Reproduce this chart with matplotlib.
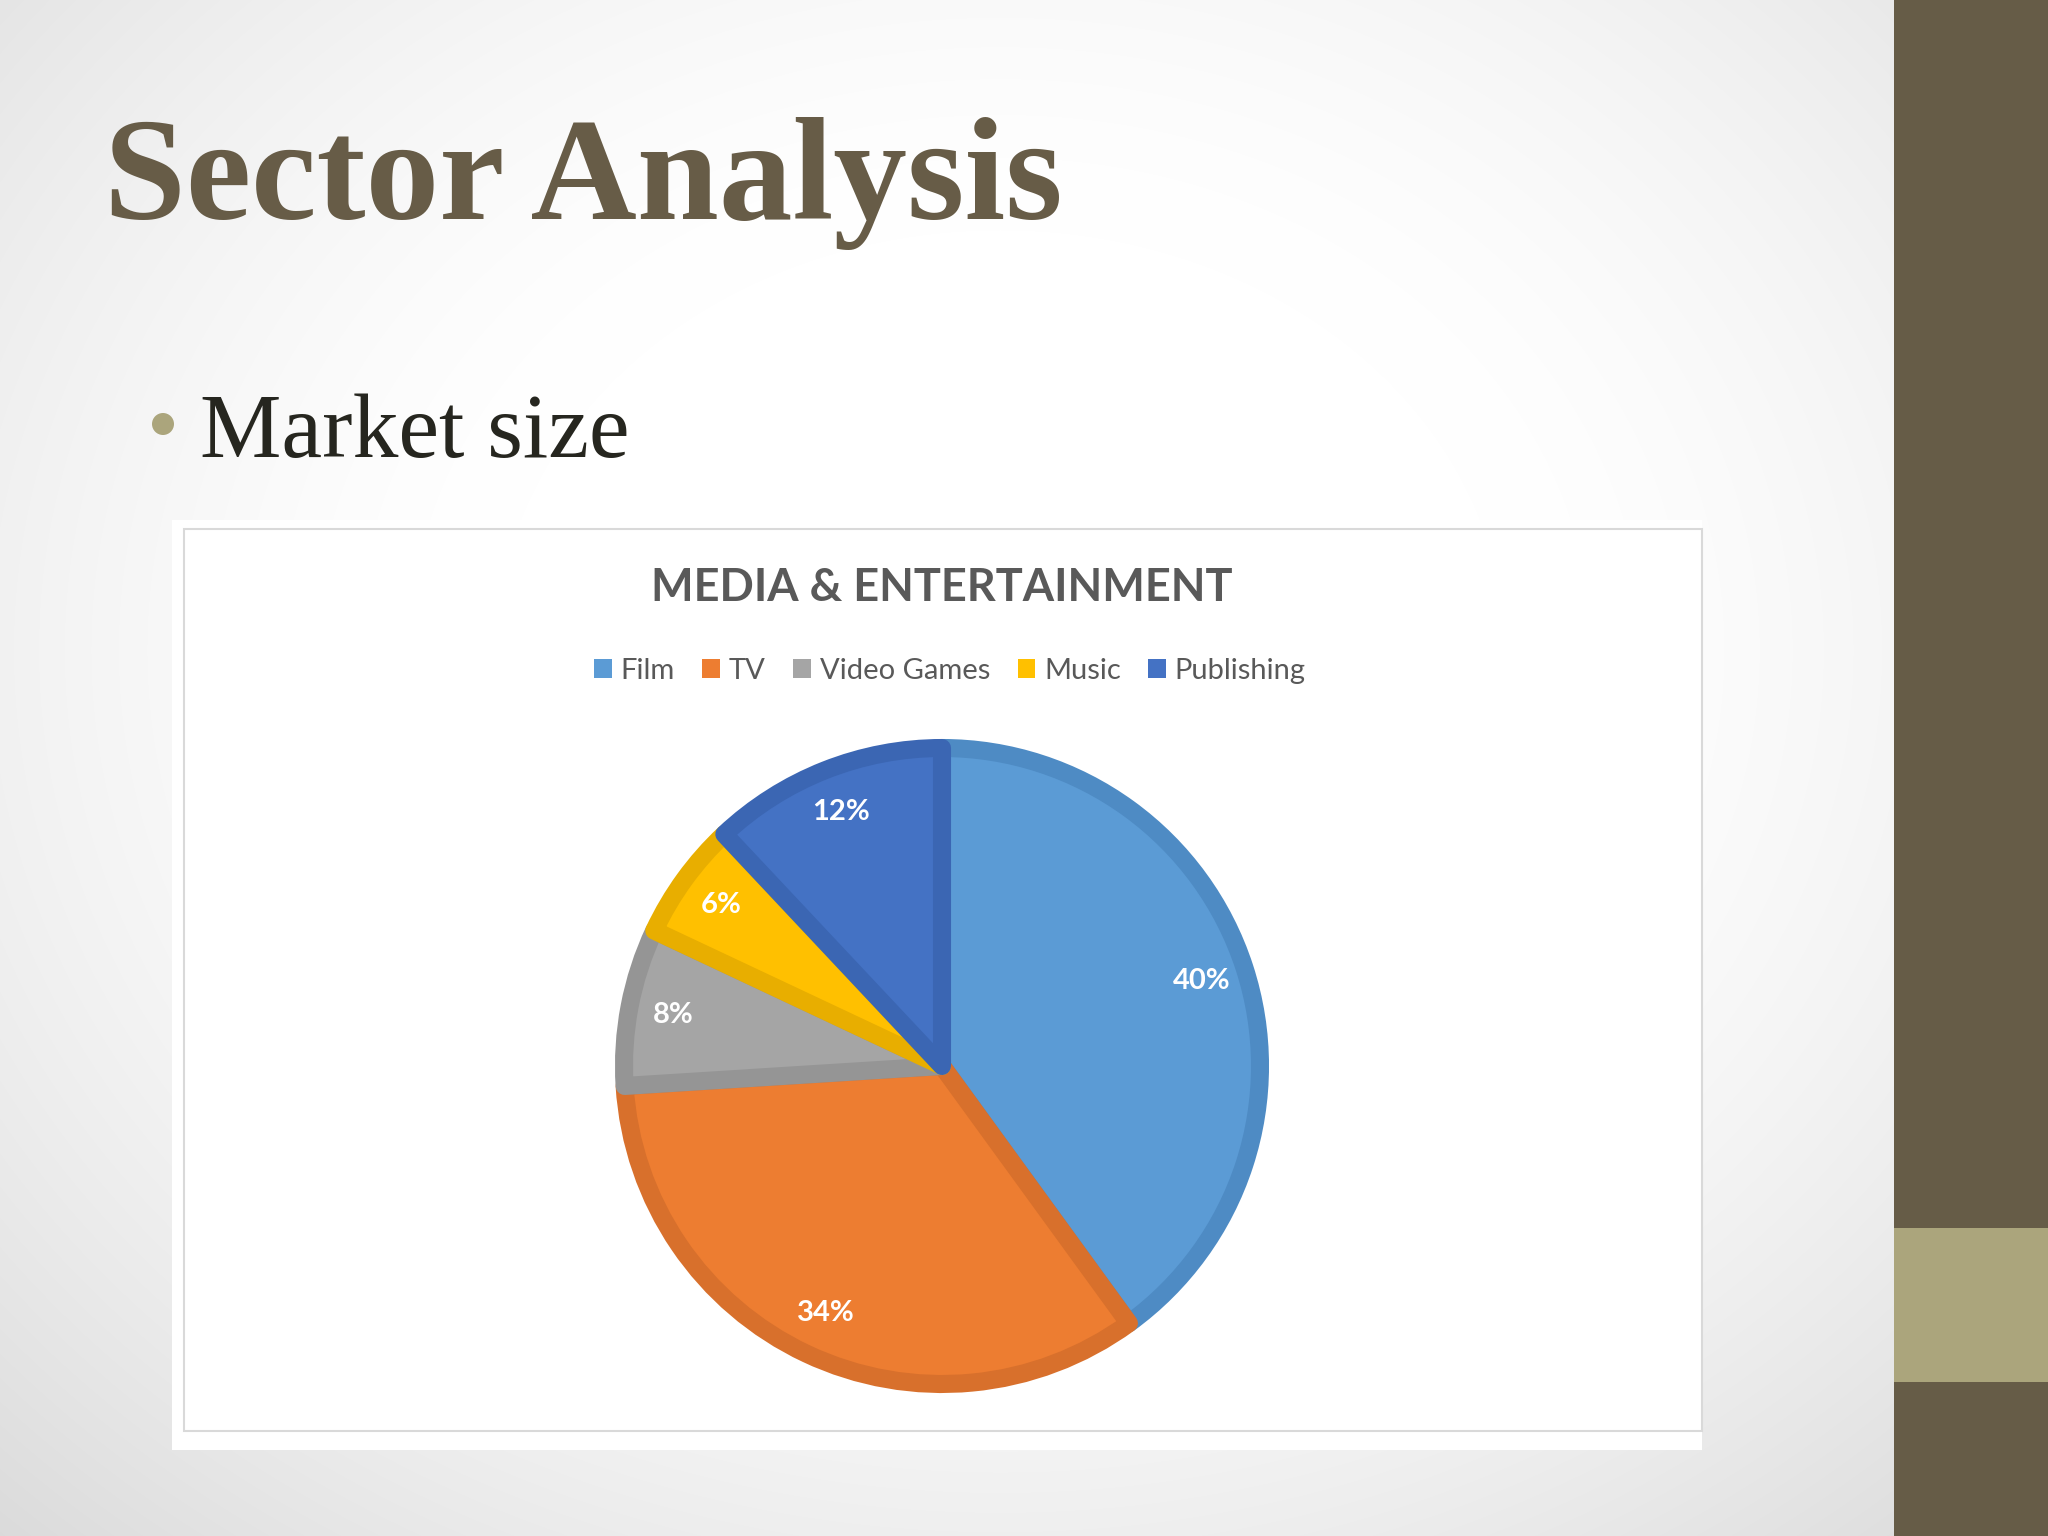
import numpy as np
import matplotlib
matplotlib.use("Agg")
import matplotlib.pyplot as plt
from matplotlib.patches import Rectangle, Ellipse, Patch

# DATA
categories = ["Film", "TV", "Video Games", "Music", "Publishing"]
shares = [40, 34, 8, 6, 12]
fills = ["#5B9BD5", "#ED7D31", "#A5A5A5", "#FFC000", "#4472C4"]
edges = ["#4E8BC4", "#D8702C", "#959595", "#E8AE00", "#3B66B3"]

W, H = 2048, 1536
fig = plt.figure(figsize=(W / 100, H / 100), dpi=100)


def fx(px):
    return px / W


def fy(py):
    return 1 - py / H


# slide background with soft grey vignette
bg = fig.add_axes([0, 0, 1, 1])
bg.set_zorder(-5)
yy, xx = np.mgrid[0:H, 0:W]
d = np.sqrt(((xx - 1000) / 1200.0) ** 2 + ((yy - 650) / 1000.0) ** 2)
shade = 1 - 0.2 * np.clip(d - 0.42, 0, None) ** 1.5
bg.imshow(np.dstack([shade, shade, shade]), extent=[0, W, H, 0], aspect="auto")
bg.set_xlim(0, W)
bg.set_ylim(H, 0)
bg.axis("off")

# right side bar
fig.add_artist(Rectangle((fx(1894), 0), 1 - fx(1894), 1, transform=fig.transFigure,
                         facecolor="#665C47", edgecolor="none"))
fig.add_artist(Rectangle((fx(1894), fy(1382)), 1 - fx(1894), (1382 - 1228) / H,
                         transform=fig.transFigure, facecolor="#ABA57C", edgecolor="none"))

# headings
fig.text(fx(104), fy(219), "Sector Analysis", family="Liberation Serif", weight="bold",
         fontsize=106, color="#675C47", va="baseline", ha="left")
fig.add_artist(Ellipse((fx(163), fy(424)), 22 / W, 22 / H, transform=fig.transFigure,
                       facecolor="#ABA57C", edgecolor="none"))
fig.text(fx(200), fy(457), "Market size", family="Liberation Serif", fontsize=66,
         color="#26261F", va="baseline", ha="left")

# chart area
fig.add_artist(Rectangle((fx(172), fy(1450)), (1702 - 172) / W, (1450 - 520) / H,
                         transform=fig.transFigure, facecolor="white", edgecolor="none"))
fig.add_artist(Rectangle((fx(184), fy(1431)), (1702 - 184) / W, (1431 - 529) / H,
                         transform=fig.transFigure, facecolor="white",
                         edgecolor="#D9D9D9", linewidth=1.5))

fig.text(fx(942), fy(588), "MEDIA & ENTERTAINMENT", family="Lato", weight="bold",
         fontsize=32.5, color="#595959", ha="center", va="center")

# pie
cx, cy, r = 942, 1066, 318
ax = fig.add_axes([fx(cx - r), fy(cy + r), 2 * r / W, 2 * r / H])
ax.set_zorder(5)
wedges, texts, autotexts = ax.pie(
    shares,
    colors=fills,
    startangle=90,
    counterclock=False,
    autopct="%d%%",
    pctdistance=0.86,
    wedgeprops={"linewidth": 13},
    textprops={"family": "Lato", "weight": "bold", "fontsize": 21, "color": "white"},
)
for w, ec in zip(wedges, edges):
    w.set_edgecolor(ec)
    w.set_joinstyle("round")
    w.set_clip_path(w)  # keep the border inside each slice
ax.set_xlim(-1, 1)
ax.set_ylim(-1, 1)
ax.set_aspect("equal")
ax.axis("off")

handles = [Patch(facecolor=c, edgecolor="none") for c in fills]
leg = fig.legend(handles, categories, loc="center", bbox_to_anchor=(fx(950), fy(671)),
                 ncol=5, frameon=False, handlelength=0.6, handleheight=0.6,
                 handletextpad=0.3, columnspacing=0.95,
                 prop={"family": "Lato", "size": 21}, labelcolor="#595959")
leg.set_zorder(6)

fig.savefig("out.png", dpi=100)
